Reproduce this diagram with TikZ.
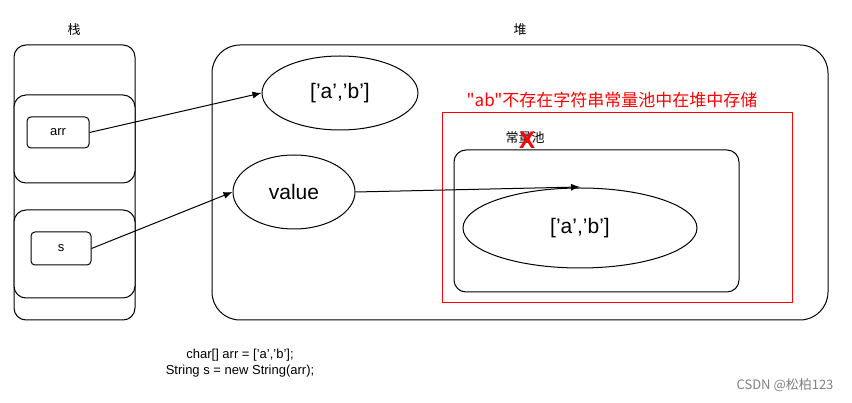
\documentclass[tikz,border=0pt]{standalone}
\usepackage{fontspec}
\usetikzlibrary{shapes.geometric,arrows.meta}
\setmainfont{Liberation Sans}
\newfontfamily\cjk{Noto Sans CJK SC}
\begin{document}
\begin{tikzpicture}[x=1pt,y=-1pt,line width=1pt,
 rbox/.style={draw,rounded corners=12pt},
 sbox/.style={draw,rounded corners=4pt},
 arr/.style={-{Latex[length=9pt,width=7pt]}},
 small/.style={font=\fontsize{13}{16}\selectfont},
 big/.style={font=\fontsize{21}{25}\selectfont}]
\useasboundingbox (0,0) rectangle (852,403);
\node[rbox,minimum width=121,minimum height=275] (stack) at (74.5,182.5) {};
\node[rbox,minimum width=121,minimum height=88,fill=white] (f1) at (74.5,139) {};
\node[rbox,minimum width=121,minimum height=88,fill=white] (f2) at (74.5,254) {};
\node[sbox,minimum width=62,minimum height=31,small] (arrb) at (58,132.5) {arr};
\node[sbox,minimum width=60,minimum height=33,small] (sb) at (61,248.5) {\raisebox{-6pt}{s}};
\node[font=\cjk\fontsize{13}{16}\selectfont] (stl) at (74,30) {栈};
\node[rbox,rounded corners=28pt,minimum width=616,minimum height=275] (heap) at (520,182.5) {};
\node[font=\cjk\fontsize{13}{16}\selectfont] (hl) at (520,30) {堆};
\node[draw,ellipse,minimum width=156,minimum height=74,inner sep=0,big] (e1) at (340,93) {['a','b']};
\node[draw,ellipse,minimum width=122,minimum height=74,inner sep=0,big] (val) at (294,192) {value};
\node[draw=red,minimum width=350,minimum height=190] (red) at (617,208) {};
\node[rbox,minimum width=285,minimum height=142] (pool) at (596.5,221) {};
\node[font=\cjk\fontsize{13}{16}\selectfont] (pl) at (525,138) {常量池};
\node[text=red,font=\fontsize{24}{26}\selectfont\bfseries] (x) at (527,140) {X};
\node[draw,ellipse,minimum width=234,minimum height=80,inner sep=0,big] (e2) at (580,228) {['a','b']};
\node[text=red,font=\cjk\fontsize{17}{20}\selectfont] (note) at (612,100) {"ab"不存在字符串常量池中在堆中存储};
\coordinate (t2) at (580,187);
\draw[arr] (arrb.east) -- (e1.west);
\draw[arr] (sb.east) -- (val.west);
\draw[arr] (val.east) -- (t2);
\node[align=center,small] (code) at (240,363) {char[] arr = ['a','b'];\\String s = new String(arr);};
\node[text=gray,font=\cjk\fontsize{13}{16}\selectfont] (wm) at (785,385) {CSDN @松柏123};
\end{tikzpicture}
\end{document}
